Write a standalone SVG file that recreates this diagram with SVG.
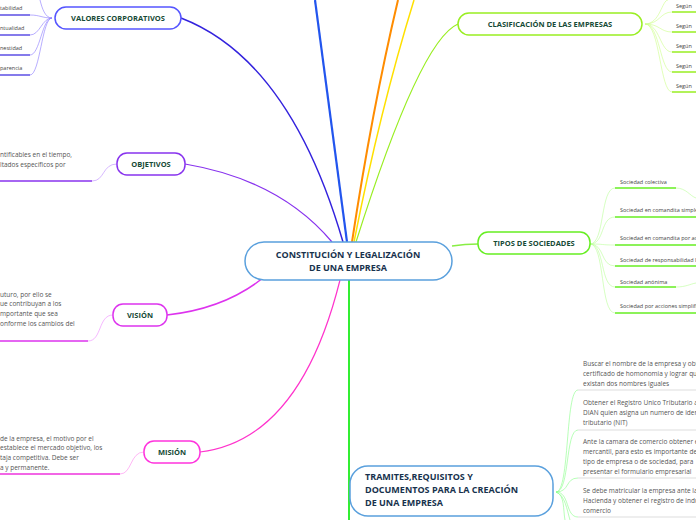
<svg xmlns="http://www.w3.org/2000/svg" width="696" height="520" viewBox="0 0 696 520">
<style>
text{font-family:"Open Sans","Noto Sans",sans-serif}
.n{fill:#fff;stroke-width:1.5}
.nt{font-size:8.5px;font-weight:bold;fill:#164a36;text-anchor:middle}
.lt{font-size:5.5px;fill:#444}
.dt{font-size:6.5px;fill:#555}
.c{fill:none}
</style>
<rect width="696" height="520" fill="#fff"/>
<g id="connectors" class="c">
<path d="M347,242 L315,0" stroke="#2255ee" stroke-width="2.2"/>
<path d="M352,242 Q372,110 398,0" stroke="#ff8c00" stroke-width="2"/>
<path d="M354,242 Q380,110 414,0" stroke="#ffe000" stroke-width="1.5"/>
<path d="M356,242 Q420,40 458,24" stroke="#99ee22" stroke-width="1.2"/>
<path d="M343,242 Q290,60 181,18" stroke="#3322dd" stroke-width="1.5"/>
<path d="M332,242 Q280,180 185,164" stroke="#8833ee" stroke-width="1.2"/>
<path d="M452,246 Q465,244 478,244" stroke="#88ee44" stroke-width="1.5"/>
<path d="M270,272 Q230,308 167,315" stroke="#dd33ee" stroke-width="1.5"/>
<path d="M340,280 Q300,440 200,452" stroke="#ff33cc" stroke-width="1.2"/>
<path d="M349,280 L349,520" stroke="#33ee33" stroke-width="2"/>
<g stroke="#3322dd" stroke-width="1.2">
<path d="M0,15 H30" /><path d="M0,35 H30"/><path d="M0,55 H30"/><path d="M0,75 H30"/>
</g>
<g stroke="#8877ff" stroke-width="0.6">
<path d="M30,15 C40,15 42,18 52,18"/><path d="M30,35 C40,35 42,18 52,18"/><path d="M30,55 C40,55 42,18 52,18"/><path d="M30,75 C40,75 42,18 52,18"/><path d="M40,0 C42,8 45,18 52,18"/>
</g>
<path d="M0,181 H92" stroke="#8833ee" stroke-width="1.5"/>
<path d="M92,181 C105,181 102,164 117,164" stroke="#bb88ff" stroke-width="0.6"/>
<path d="M0,341 H88" stroke="#dd33ee" stroke-width="1.5"/>
<path d="M88,341 C102,341 98,315 113,315" stroke="#ee88ff" stroke-width="0.6"/>
<path d="M0,474 H120" stroke="#ee33dd" stroke-width="1.5"/>
<path d="M120,474 C132,474 130,452 144,452" stroke="#ff88ee" stroke-width="0.6"/>
<g stroke="#99ee22" stroke-width="1.5">
<path d="M672,12 H696"/><path d="M672,32 H696"/><path d="M672,52 H696"/><path d="M672,72 H696"/><path d="M672,92 H696"/>
</g>
<g stroke="#ccff88" stroke-width="0.6">
<path d="M645,24 C660,24 660,12 672,12"/><path d="M645,24 C660,24 660,32 672,32"/><path d="M645,24 C660,24 660,52 672,52"/><path d="M645,24 C660,24 660,72 672,72"/><path d="M645,24 C660,24 660,92 672,92"/><path d="M645,24 C660,24 662,0 668,0"/>
</g>
<g stroke="#66ee22" stroke-width="1.5">
<path d="M615,188 H676"/><path d="M615,217 H696"/><path d="M615,245 H696"/><path d="M615,266 H696"/><path d="M615,287 H676"/><path d="M615,313 H696"/>
</g>
<g stroke="#bbff99" stroke-width="0.6">
<path d="M590,244 C605,244 600,188 615,188"/><path d="M590,244 C605,244 600,217 615,217"/><path d="M590,244 C605,244 600,245 615,245"/><path d="M590,244 C605,244 600,266 615,266"/><path d="M590,244 C605,244 600,287 615,287"/><path d="M590,244 C605,244 600,313 615,313"/>
<path d="M676,188 C686,188 690,196 696,198"/><path d="M676,287 C686,287 690,284 696,283"/>
</g>
<g stroke="#dddddd" stroke-width="1.2">
<path d="M578,390 H696"/><path d="M578,430 H696"/><path d="M578,478 H696"/><path d="M578,517 H696"/>
</g>
<g stroke="#88ff88" stroke-width="0.6">
<path d="M556,492 C570,492 565,390 578,390"/><path d="M556,492 C570,492 565,430 578,430"/><path d="M556,492 C570,492 565,478 578,478"/><path d="M556,492 C570,492 565,517 578,517"/><path d="M556,492 C565,495 567,510 570,520"/><path d="M556,492 C565,495 563,510 565,520"/>
</g>
</g>
<g id="center">
<rect class="n" x="245" y="242" width="207" height="38" rx="19" stroke="#5aa0dd"/>
<text class="nt" x="348" y="258" style="fill:#17324d;font-size:9px">CONSTITUCIÓN Y LEGALIZACIÓN</text>
<text class="nt" x="348" y="271" style="fill:#17324d;font-size:9px">DE UNA EMPRESA</text>
</g>
<g id="valores">
<rect class="n" x="55" y="7" width="126" height="22" rx="11" stroke="#5555ff"/>
<text class="nt" x="118" y="21" style="font-size:7.5px">VALORES CORPORATIVOS</text>
<text class="lt" x="0" y="10">tabilidad</text><text class="lt" x="0" y="30">ntualidad</text><text class="lt" x="0" y="50">nestidad</text><text class="lt" x="0" y="70">parencia</text>
</g>
<g id="objetivos">
<rect class="n" x="117" y="153" width="68" height="22" rx="10" stroke="#8833ee"/>
<text class="nt" x="151" y="167" style="font-size:7.5px">OBJETIVOS</text>
<text class="dt" x="0" y="157">ntificables en el tiempo,</text>
<text class="dt" x="0" y="167">ltados específicos por</text>
</g>
<g id="vision">
<rect class="n" x="113" y="304" width="54" height="22" rx="10" stroke="#dd33ee"/>
<text class="nt" x="140" y="318" style="font-size:7.5px">VISIÓN</text>
<text class="dt" x="0" y="297">uturo, por ello se</text>
<text class="dt" x="0" y="306">ue contribuyan a los</text>
<text class="dt" x="0" y="316">mportante que sea</text>
<text class="dt" x="0" y="326">onforme los cambios del</text>
</g>
<g id="mision">
<rect class="n" x="144" y="441" width="56" height="22" rx="10" stroke="#ff33dd"/>
<text class="nt" x="172" y="455" style="font-size:7.5px">MISIÓN</text>
<text class="dt" x="0" y="441">de la empresa, el motivo por el</text>
<text class="dt" x="0" y="450">establece el mercado objetivo, los</text>
<text class="dt" x="0" y="460">taja competitiva. Debe ser</text>
<text class="dt" x="0" y="470">a y permanente.</text>
</g>
<g id="clasificacion">
<rect class="n" x="458" y="13" width="184" height="22" rx="11" stroke="#99ee22"/>
<text class="nt" x="550" y="27" style="font-size:7.5px">CLASIFICACIÓN DE LAS EMPRESAS</text>
<text class="lt" x="676" y="8">Según</text><text class="lt" x="676" y="28">Según</text><text class="lt" x="676" y="48">Según</text><text class="lt" x="676" y="68">Según</text><text class="lt" x="676" y="88">Según</text>
</g>
<g id="tipos">
<rect class="n" x="478" y="232" width="112" height="22" rx="10" stroke="#66ee22"/>
<text class="nt" x="534" y="246" style="font-size:7.5px">TIPOS DE SOCIEDADES</text>
<text class="lt" x="620" y="184">Sociedad colectiva</text>
<text class="lt" x="620" y="212">Sociedad en comandita simple</text>
<text class="lt" x="620" y="240">Sociedad en comandita por acciones</text>
<text class="lt" x="620" y="262">Sociedad de responsabilidad limitada</text>
<text class="lt" x="620" y="284">Sociedad anónima</text>
<text class="lt" x="620" y="308">Sociedad por acciones simplificada</text>
</g>
<g id="tramites">
<rect class="n" x="350" y="466" width="203" height="50" rx="18" stroke="#5aa0dd"/>
<text x="365" y="480" style="font-size:9px;font-weight:bold;fill:#17324d">TRAMITES,REQUISITOS Y</text>
<text x="365" y="493" style="font-size:9px;font-weight:bold;fill:#17324d">DOCUMENTOS PARA LA CREACIÓN</text>
<text x="365" y="506" style="font-size:9px;font-weight:bold;fill:#17324d">DE UNA EMPRESA</text>
<text class="dt" x="583" y="366">Buscar el nombre de la empresa y obtener el</text>
<text class="dt" x="583" y="376">certificado de homonomia y lograr que no</text>
<text class="dt" x="583" y="386">existan dos nombres iguales</text>
<text class="dt" x="583" y="405">Obtener el Registro Unico Tributario ante la</text>
<text class="dt" x="583" y="415">DIAN quien asigna un numero de identificación</text>
<text class="dt" x="583" y="425">tributario (NIT)</text>
<text class="dt" x="583" y="444">Ante la camara de comercio obtener el registro</text>
<text class="dt" x="583" y="454">mercantil, para esto es importante definir el</text>
<text class="dt" x="583" y="464">tipo de empresa o de sociedad, para</text>
<text class="dt" x="583" y="474">presentar el formulario empresarial</text>
<text class="dt" x="583" y="493">Se debe matricular la empresa ante la</text>
<text class="dt" x="583" y="503">Hacienda  y obtener el registro de industria y</text>
<text class="dt" x="583" y="513">comercio</text>
</g>
</svg>
